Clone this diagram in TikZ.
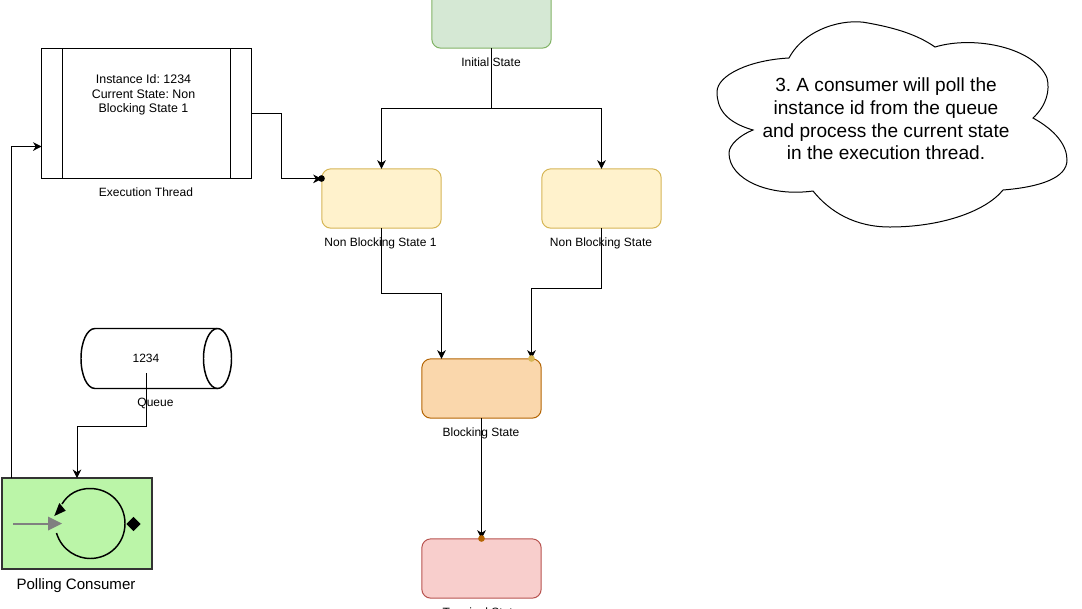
\documentclass[tikz,border=0pt]{standalone}
\usepackage{fontspec}
\setmainfont{Liberation Sans}
\usetikzlibrary{arrows.meta,shapes.geometric,calc}
\definecolor{gf}{HTML}{D5E8D4}\definecolor{gd}{HTML}{82B366}
\definecolor{yf}{HTML}{FFF2CC}\definecolor{yd}{HTML}{D6B656}
\definecolor{of}{HTML}{FAD7AC}\definecolor{od}{HTML}{B46504}
\definecolor{rf}{HTML}{F8CECC}\definecolor{rd}{HTML}{B85450}
\definecolor{pg}{HTML}{BBF5A8}
\tikzset{
  statebox/.style={draw,line width=.75pt,rounded corners=6.75pt,minimum width=89.5pt,minimum height=44.5pt,inner sep=0pt,outer sep=0pt},
  lbl/.style={font=\fontsize{9}{11}\selectfont\frenchspacing,inner sep=0pt,align=center,text=black},
  conn/.style={draw=black,line width=.75pt},
  arr/.style={conn,-{Stealth[length=6.5pt,width=6.5pt,inset=2pt]}},
  dot/.style={circle,inner sep=0pt,minimum size=5pt}
}
\begin{document}
\begin{tikzpicture}[x=0.75pt,y=-0.75pt]
\useasboundingbox (0,0) rectangle (1082,608);
\clip (0,0) rectangle (1082,608);
% state boxes
\node[statebox,draw=gd,fill=gf] (init) at (491.5,18.5) {};
\node[statebox,draw=yd,fill=yf] (nbone) at (381.5,198.5) {};
\node[statebox,draw=yd,fill=yf] (nbtwo) at (601.5,198.5) {};
\node[statebox,draw=od,fill=of] (block) at (481.5,388.5) {};
\node[statebox,draw=rd,fill=rf] (term) at (481.5,568.5) {};
% execution thread
\node[draw,line width=.75pt,minimum width=157.5pt,minimum height=97.5pt,inner sep=0pt,outer sep=0pt] (exec) at (146.7,113.5) {};
\draw[line width=.75pt] ($(exec.north west)+(20.6,0)$) -- ($(exec.south west)+(20.6,0)$);
\draw[line width=.75pt] ($(exec.north east)+(-21.4,0)$) -- ($(exec.south east)+(-21.4,0)$);
\node[lbl,font=\fontsize{9.3}{11}\selectfont\frenchspacing] (exectext) at (143.5,95) {Instance Id: 1234\\Current State: Non\\Blocking State 1};
\node[lbl] (execlbl) at (146,192.5) {Execution Thread};
% queue
\node[inner sep=0pt,outer sep=0pt,minimum width=112pt,minimum height=45pt] (queue) at (156,358.5) {};
\draw[line width=1.1pt] (217,328.5) -- (95,328.5)
  .. controls (87,328.5) and (81,342) .. (81,358.5)
  .. controls (81,375) and (87,388.5) .. (95,388.5) -- (217,388.5);
\draw[line width=1.1pt] (217.5,358.5) ellipse[x radius=14,y radius=30];
\node[lbl,minimum height=22.5pt] (qtext) at (146,358) {1234};
\node[lbl] (qlbl) at (155.5,403) {Queue};
% polling consumer
\node[draw=black!80,fill=pg,line width=1.5pt,minimum width=112.5pt,minimum height=68pt,inner sep=0pt,outer sep=0pt] (poll) at (77,523.5) {};
\node[diamond,fill=black,inner sep=0pt,minimum width=11pt,minimum height=11pt] (pdiamond) at (133.5,524) {};
\draw[line width=1.1pt] (56.5,533) .. controls (62,551) and (78,558.5) .. (90,558.5)
  .. controls (110,558.5) and (125,543) .. (125,523.5)
  .. controls (125,504) and (110,488.5) .. (90,488.5)
  .. controls (78,488.5) and (68,494) .. (62,504);
\fill (54.3,516) -- (59.3,503) -- (65.7,510.7) -- cycle;
\draw[draw=black!50,line width=1.5pt] (13,523.5) -- (50,523.5);
\fill[black!50] (62,523.5) -- (48,516.5) -- (48,530.5) -- cycle;
\node[font=\fontsize{11.3}{13}\selectfont,inner sep=0pt] (plbl) at (76,585.5) {Polling Consumer};
% connectors
\draw[arr] (init.south) -- ++(0,60) -| (nbone.north);
\draw[arr] (init.south) -- ++(0,60) -| (nbtwo.north);
\coordinate (nbone-in) at ($(nbone.north west)+(0,10)$);
\coordinate (block-a) at ($(block.north)+(-40,0)$);
\coordinate (block-b) at ($(block.north)+(50,0)$);
\draw[arr] (nbone.south) -- ++(0,65.5) -| (block-a);
\draw[arr] (nbtwo.south) -- ++(0,60) -| (block-b);
\draw[arr] (block.south) -- (term.north);
\draw[arr] (exec.east) -- ++(30,0) |- (nbone-in);
\draw[arr] (qtext.south) -- ++(0,53) -| (poll.north);
\coordinate (pollout) at (11.5,478);
\coordinate (execin) at (exec.west |- 0,146.5);
\draw[arr] (pollout) |- (execin);
% dots
\node[dot,fill=black] (d1) at (321.5,178.5) {};
\node[dot,fill=yd] (d2) at (531.5,358.5) {};
\node[dot,fill=od] (d3) at (481.5,538.5) {};
% labels
\node[lbl] (l1) at (491,62.5) {Initial State};
\node[lbl] (l2) at (380.5,243) {Non Blocking State 1};
\node[lbl] (l3) at (601,243) {Non Blocking State};
\node[lbl] (l4) at (481,433) {Blocking State};
\node[lbl] (l5) at (481,612.5) {Terminal State};
% cloud
\draw[line width=.75pt,fill=white]
 (789,58) .. controls (805,28) and (845,18) .. (868,23)
 .. controls (890,27) and (915,33) .. (935,47)
 .. controls (975,35) and (1035,48) .. (1047,78)
 .. controls (1050,90) and (1047,105) .. (1033,118)
 .. controls (1055,130) and (1067,145) .. (1067,160)
 .. controls (1067,178) and (1040,187) .. (1003,190)
 .. controls (985,212) and (940,227) .. (890,227)
 .. controls (855,227) and (830,212) .. (813,191)
 .. controls (770,197) and (729,180) .. (729,153)
 .. controls (729,145) and (740,135) .. (753,130)
 .. controls (725,122) and (717,108) .. (717,92)
 .. controls (717,75) and (750,60) .. (789,58) -- cycle;
\node[font=\fontsize{14.3}{17}\selectfont\frenchspacing,align=center,inner sep=0pt] (cloudtext) at (886,119) {3. A consumer will poll the\\instance id from the queue\\and process the current state\\in the execution thread.};
\end{tikzpicture}
\end{document}
